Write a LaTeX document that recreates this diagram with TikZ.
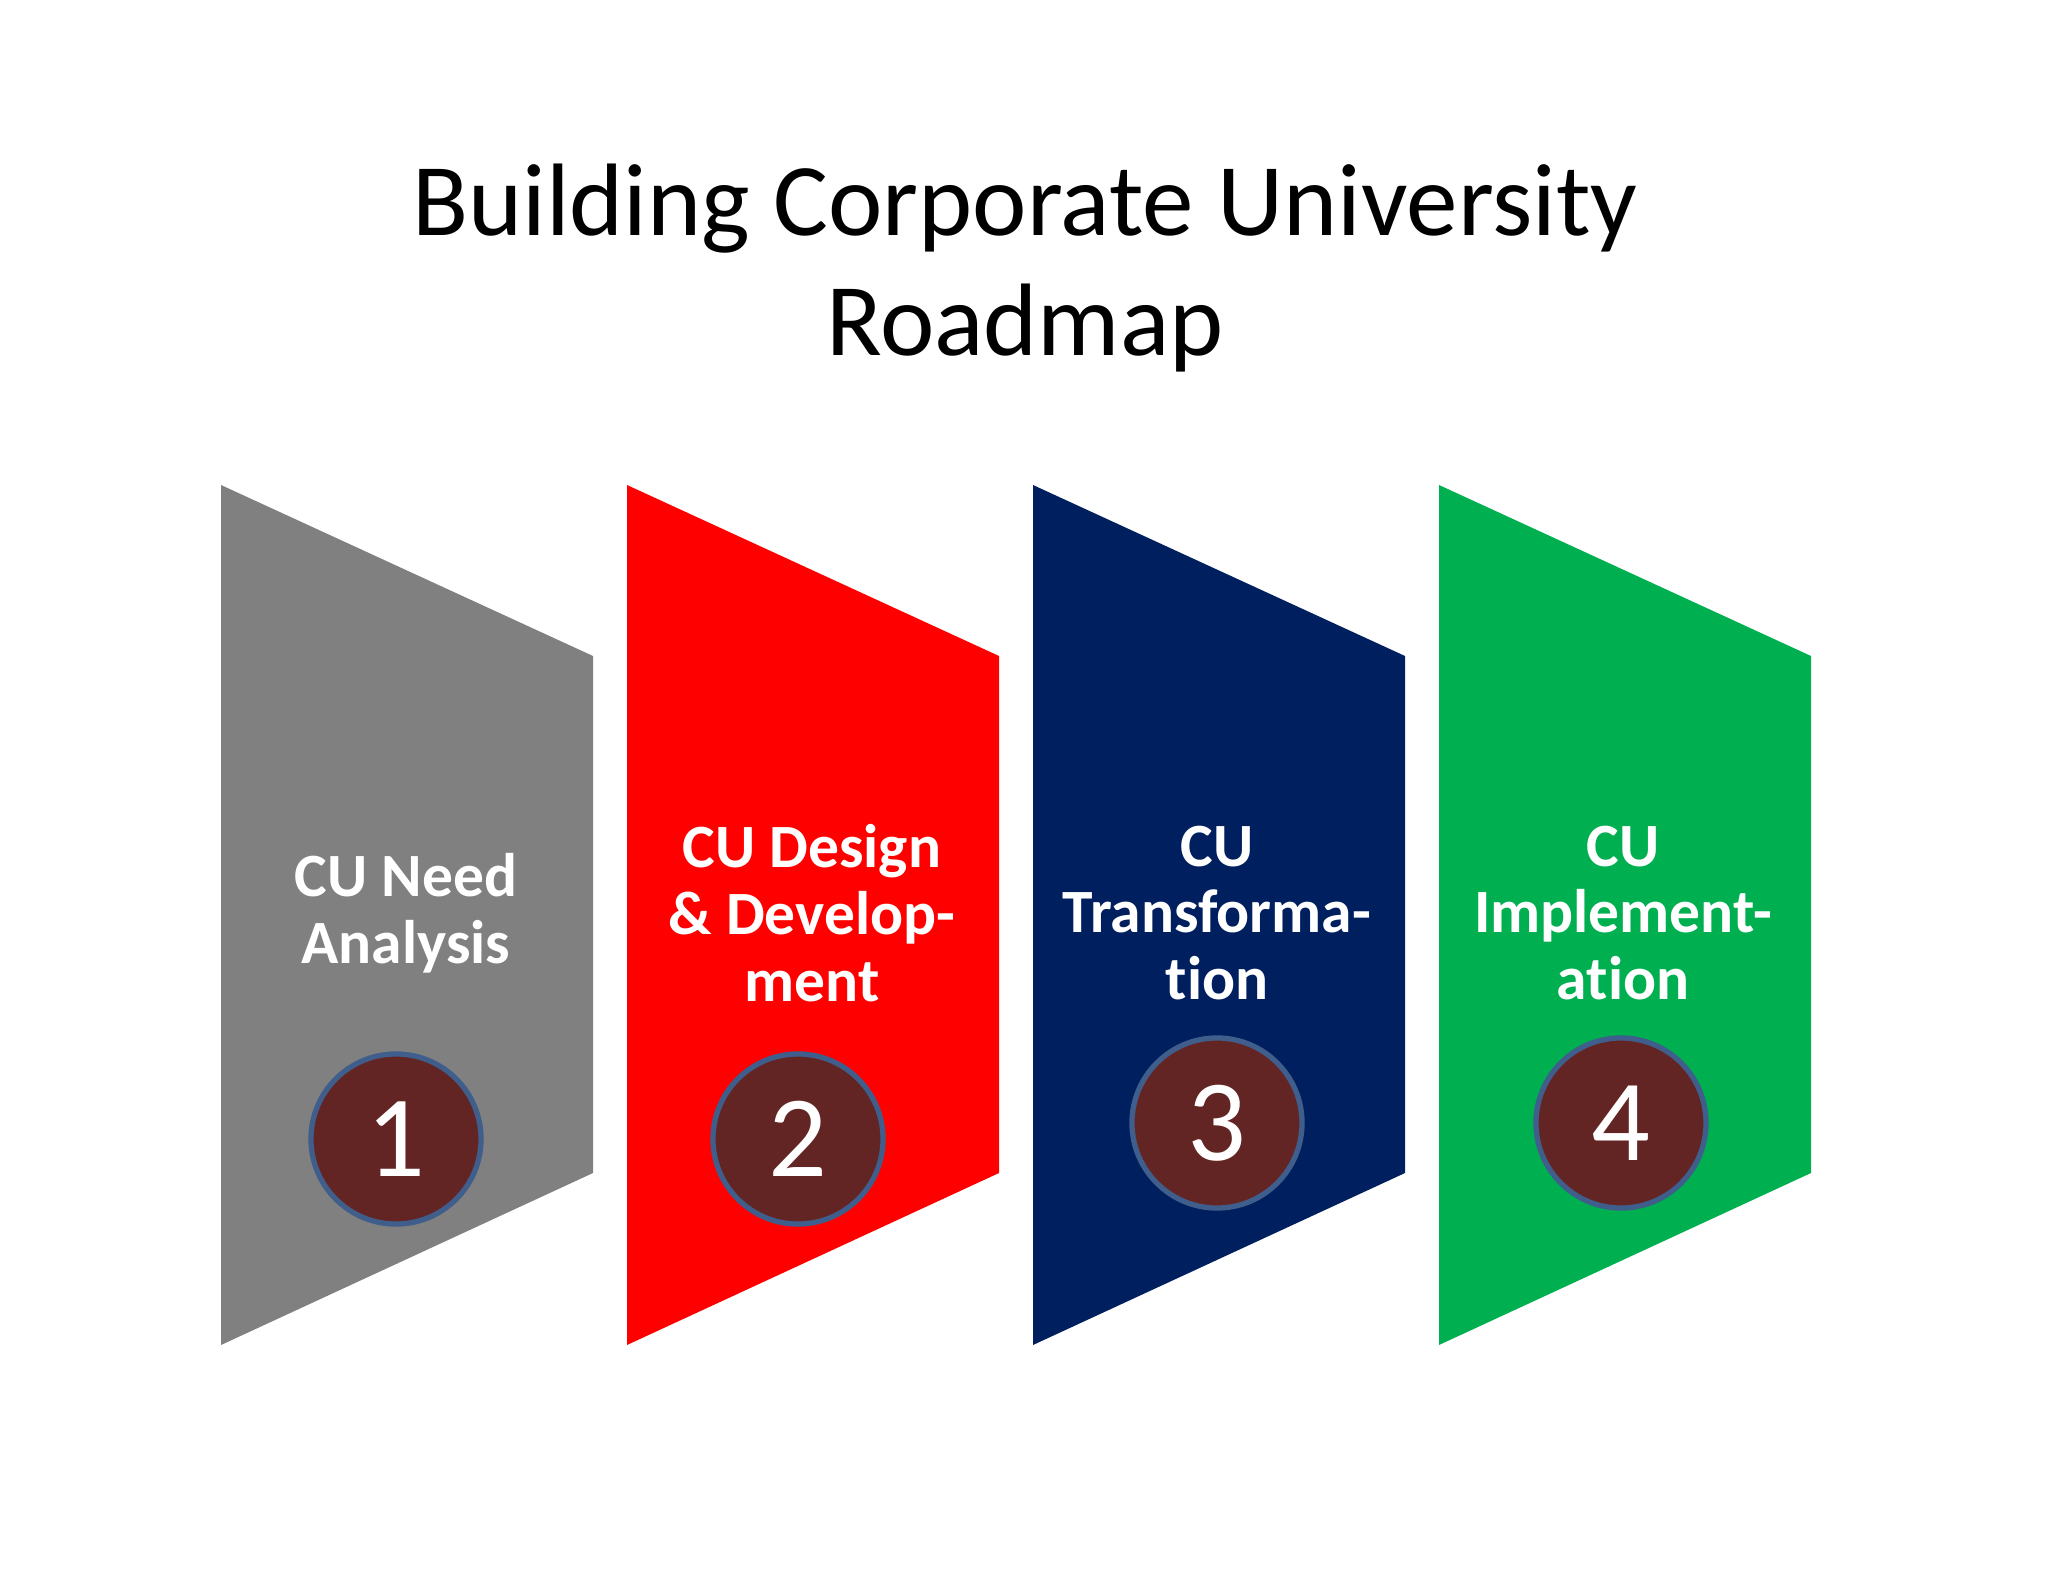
\documentclass[tikz,border=0pt]{standalone}
\usepackage{fontspec}
\setmainfont[RawFeature={-liga}]{Carlito}
\begin{document}
\begin{tikzpicture}[x=0.01cm,y=-0.01cm]
\definecolor{cgray}{HTML}{808080}
\definecolor{cred}{HTML}{FF0000}
\definecolor{cnavy}{HTML}{001F5F}
\definecolor{cgreen}{HTML}{00B050}
\definecolor{cmar}{HTML}{632523}
\definecolor{cring}{HTML}{3F5E8C}
\tikzset{lbl/.style={text=white,font=\fontsize{17.5}{19}\selectfont\bfseries,align=center},
 num/.style={circle,fill=cmar,draw=cring,line width=1.5pt,minimum size=1.7cm,text=white,font=\fontsize{33}{36}\selectfont,inner sep=0pt},
 ttl/.style={font=\fontsize{29.3}{34}\selectfont,align=center}}
\useasboundingbox (0,0) rectangle (2048,1582);
\node[ttl] (title) at (1025,268) {Building Corporate University\\Roadmap};
\foreach \x/\c in {221/cgray,627/cred,1033/cnavy,1439/cgreen}{
  \fill[\c] (\x,485) -- (\x+372,656) -- (\x+372,1173) -- (\x,1345) -- cycle;
}
\node[lbl] (t1) at (406,913) {CU Need\\Analysis};
\node[lbl] (t2) at (812,913) {CU Design\\\& Develop-\\ment};
\node[lbl] (t3) at (1217,913) {CU\\Transforma-\\tion};
\node[lbl] (t4) at (1623,913) {CU\\Implement-\\ation};
\node[num] (n1) at (396,1139) {1};
\node[num] (n2) at (798,1139) {2};
\node[num] (n3) at (1217,1123) {3};
\node[num] (n4) at (1621,1123) {4};
\end{tikzpicture}
\end{document}
